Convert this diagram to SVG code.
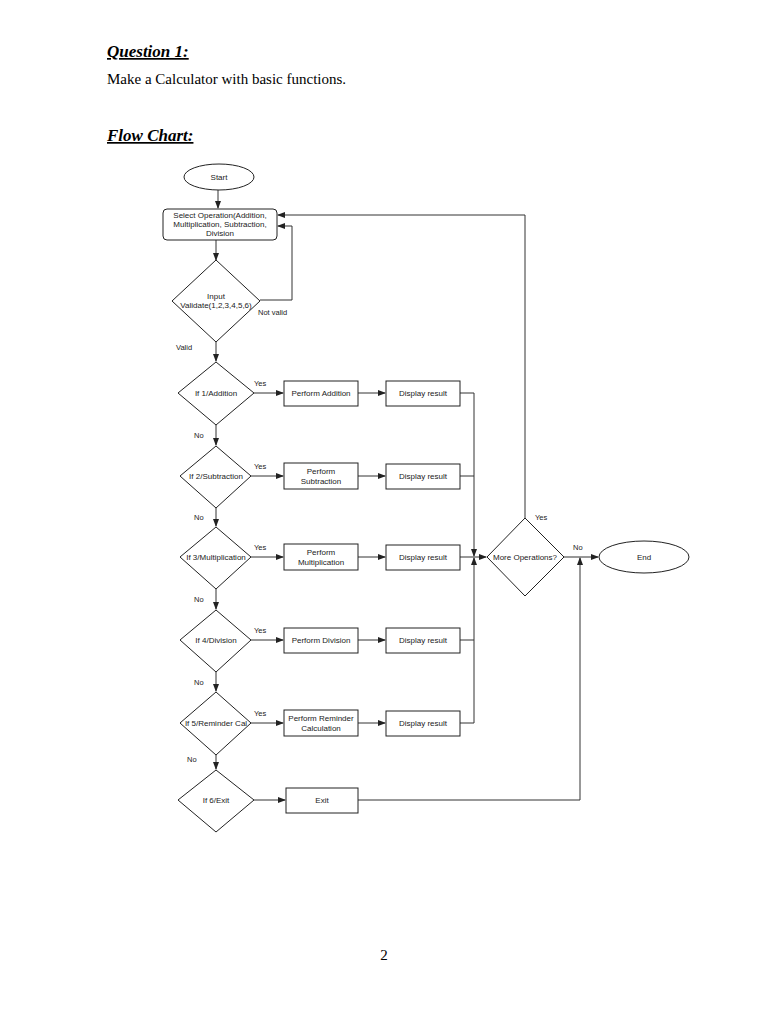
<svg xmlns="http://www.w3.org/2000/svg" width="768" height="1024" viewBox="0 0 768 1024">
<style>
.s{fill:#fff;stroke:#222;stroke-width:1}
.c{fill:none;stroke:#333;stroke-width:1}
.t{font-family:"Liberation Sans",Arial,sans-serif;font-size:8px;fill:#222;text-anchor:middle}
.l{font-family:"Liberation Sans",Arial,sans-serif;font-size:7.5px;fill:#222}
.h{font-family:"Liberation Serif","Times New Roman",serif;font-size:17px;font-weight:bold;font-style:italic;text-decoration:underline;fill:#000}
.p{font-family:"Liberation Serif","Times New Roman",serif;font-size:15px;fill:#000}
</style>
<defs><marker id="a" markerWidth="8" markerHeight="6" refX="7" refY="3" orient="auto" markerUnits="userSpaceOnUse"><path d="M0,0L8,3L0,6z" fill="#222"/></marker></defs>
<rect width="768" height="1024" fill="#fff"/>
<text class="h" x="107" y="57">Question 1:</text>
<text class="p" x="107" y="84">Make a Calculator with basic functions.</text>
<text class="h" x="107" y="141">Flow Chart:</text>
<text class="p" x="384" y="960" text-anchor="middle">2</text>
<g id="connectors">
<path class="c" d="M218,190V208" marker-end="url(#a)"/>
<path class="c" d="M216,240V260" marker-end="url(#a)"/>
<path class="c" d="M260,300H292V226H278" marker-end="url(#a)"/>
<path class="c" d="M216,342V361" marker-end="url(#a)"/>
<path class="c" d="M216,425V445" marker-end="url(#a)"/>
<path class="c" d="M216,508V526" marker-end="url(#a)"/>
<path class="c" d="M216,589V609" marker-end="url(#a)"/>
<path class="c" d="M216,672V691" marker-end="url(#a)"/>
<path class="c" d="M216,755V769" marker-end="url(#a)"/>
<path class="c" d="M254,393H283" marker-end="url(#a)"/>
<path class="c" d="M251,476H283" marker-end="url(#a)"/>
<path class="c" d="M251,557H283" marker-end="url(#a)"/>
<path class="c" d="M251,640H283" marker-end="url(#a)"/>
<path class="c" d="M251,723H283" marker-end="url(#a)"/>
<path class="c" d="M254,800H285" marker-end="url(#a)"/>
<path class="c" d="M358,393H385" marker-end="url(#a)"/>
<path class="c" d="M358,476H385" marker-end="url(#a)"/>
<path class="c" d="M358,557H385" marker-end="url(#a)"/>
<path class="c" d="M358,640H385" marker-end="url(#a)"/>
<path class="c" d="M358,723H385" marker-end="url(#a)"/>
<path class="c" d="M460,393H474V556" marker-end="url(#a)"/>
<path class="c" d="M460,476H474"/>
<path class="c" d="M460,557H474"/>
<path class="c" d="M460,640H474"/>
<path class="c" d="M460,723H474V558" marker-end="url(#a)"/>
<path class="c" d="M474,557H486" marker-end="url(#a)"/>
<path class="c" d="M525,518V215H278" marker-end="url(#a)"/>
<path class="c" d="M564,557H598" marker-end="url(#a)"/>
<path class="c" d="M358,800H580V558" marker-end="url(#a)"/>
</g>
<g id="start"><ellipse class="s" cx="219" cy="177" rx="35" ry="13"/><text class="t" x="219" y="180">Start</text></g>
<g id="select"><rect class="s" x="163" y="209" width="114" height="31" rx="4"/><text class="t" x="220" y="218">Select Operation(Addition,</text><text class="t" x="220" y="227">Multiplication, Subtraction,</text><text class="t" x="220" y="236">Division</text></g>
<g id="validate"><path class="s" d="M216,260L260,301L216,342L172,301Z"/><text class="t" x="216" y="299">Input</text><text class="t" x="216" y="308">Validate(1,2,3,4,5,6)</text></g>
<g id="d1"><path class="s" d="M216,362L254,393L216,425L178,393Z"/><text class="t" x="216" y="396">If 1/Addition</text></g>
<g id="d2"><path class="s" d="M216,446L251,476L216,508L180,476Z"/><text class="t" x="216" y="479">If 2/Subtraction</text></g>
<g id="d3"><path class="s" d="M216,527L251,557L216,589L180,557Z"/><text class="t" x="216" y="560">If 3/Multiplication</text></g>
<g id="d4"><path class="s" d="M216,610L251,640L216,672L180,640Z"/><text class="t" x="216" y="643">If 4/Division</text></g>
<g id="d5"><path class="s" d="M216,692L251,723L216,755L180,723Z"/><text class="t" x="216" y="726">If 5/Reminder Cal</text></g>
<g id="d6"><path class="s" d="M216,770L254,800L216,832L178,800Z"/><text class="t" x="216" y="803">If 6/Exit</text></g>
<g id="p1"><rect class="s" x="284" y="381" width="74" height="25"/><text class="t" x="321" y="396">Perform Addition</text></g>
<g id="p2"><rect class="s" x="284" y="463" width="74" height="26"/><text class="t" x="321" y="474">Perform</text><text class="t" x="321" y="484">Subtraction</text></g>
<g id="p3"><rect class="s" x="284" y="544" width="74" height="26"/><text class="t" x="321" y="555">Perform</text><text class="t" x="321" y="565">Multiplication</text></g>
<g id="p4"><rect class="s" x="284" y="628" width="74" height="25"/><text class="t" x="321" y="643">Perform Division</text></g>
<g id="p5"><rect class="s" x="284" y="710" width="74" height="26"/><text class="t" x="321" y="721">Perform Reminder</text><text class="t" x="321" y="731">Calculation</text></g>
<g id="exit"><rect class="s" x="286" y="788" width="72" height="25"/><text class="t" x="322" y="803">Exit</text></g>
<g id="r1"><rect class="s" x="386" y="381" width="74" height="25"/><text class="t" x="423" y="396">Display result</text></g>
<g id="r2"><rect class="s" x="386" y="464" width="74" height="25"/><text class="t" x="423" y="479">Display result</text></g>
<g id="r3"><rect class="s" x="386" y="545" width="74" height="25"/><text class="t" x="423" y="560">Display result</text></g>
<g id="r4"><rect class="s" x="386" y="628" width="74" height="25"/><text class="t" x="423" y="643">Display result</text></g>
<g id="r5"><rect class="s" x="386" y="711" width="74" height="25"/><text class="t" x="423" y="726">Display result</text></g>
<g id="more"><path class="s" d="M525,518L564,557L525,596L487,557Z"/><text class="t" x="525" y="560">More Operations?</text></g>
<g id="end"><ellipse class="s" cx="644" cy="557" rx="45" ry="16"/><text class="t" x="644" y="560">End</text></g>
<g id="labels">
<text class="l" x="258" y="315">Not valid</text>
<text class="l" x="176" y="350">Valid</text>
<text class="l" x="254" y="386">Yes</text><text class="l" x="254" y="469">Yes</text><text class="l" x="254" y="550">Yes</text><text class="l" x="254" y="633">Yes</text><text class="l" x="254" y="716">Yes</text>
<text class="l" x="194" y="438">No</text><text class="l" x="194" y="520">No</text><text class="l" x="194" y="602">No</text><text class="l" x="194" y="685">No</text><text class="l" x="187" y="762">No</text>
<text class="l" x="535" y="520">Yes</text>
<text class="l" x="573" y="550">No</text>
</g>
</svg>
